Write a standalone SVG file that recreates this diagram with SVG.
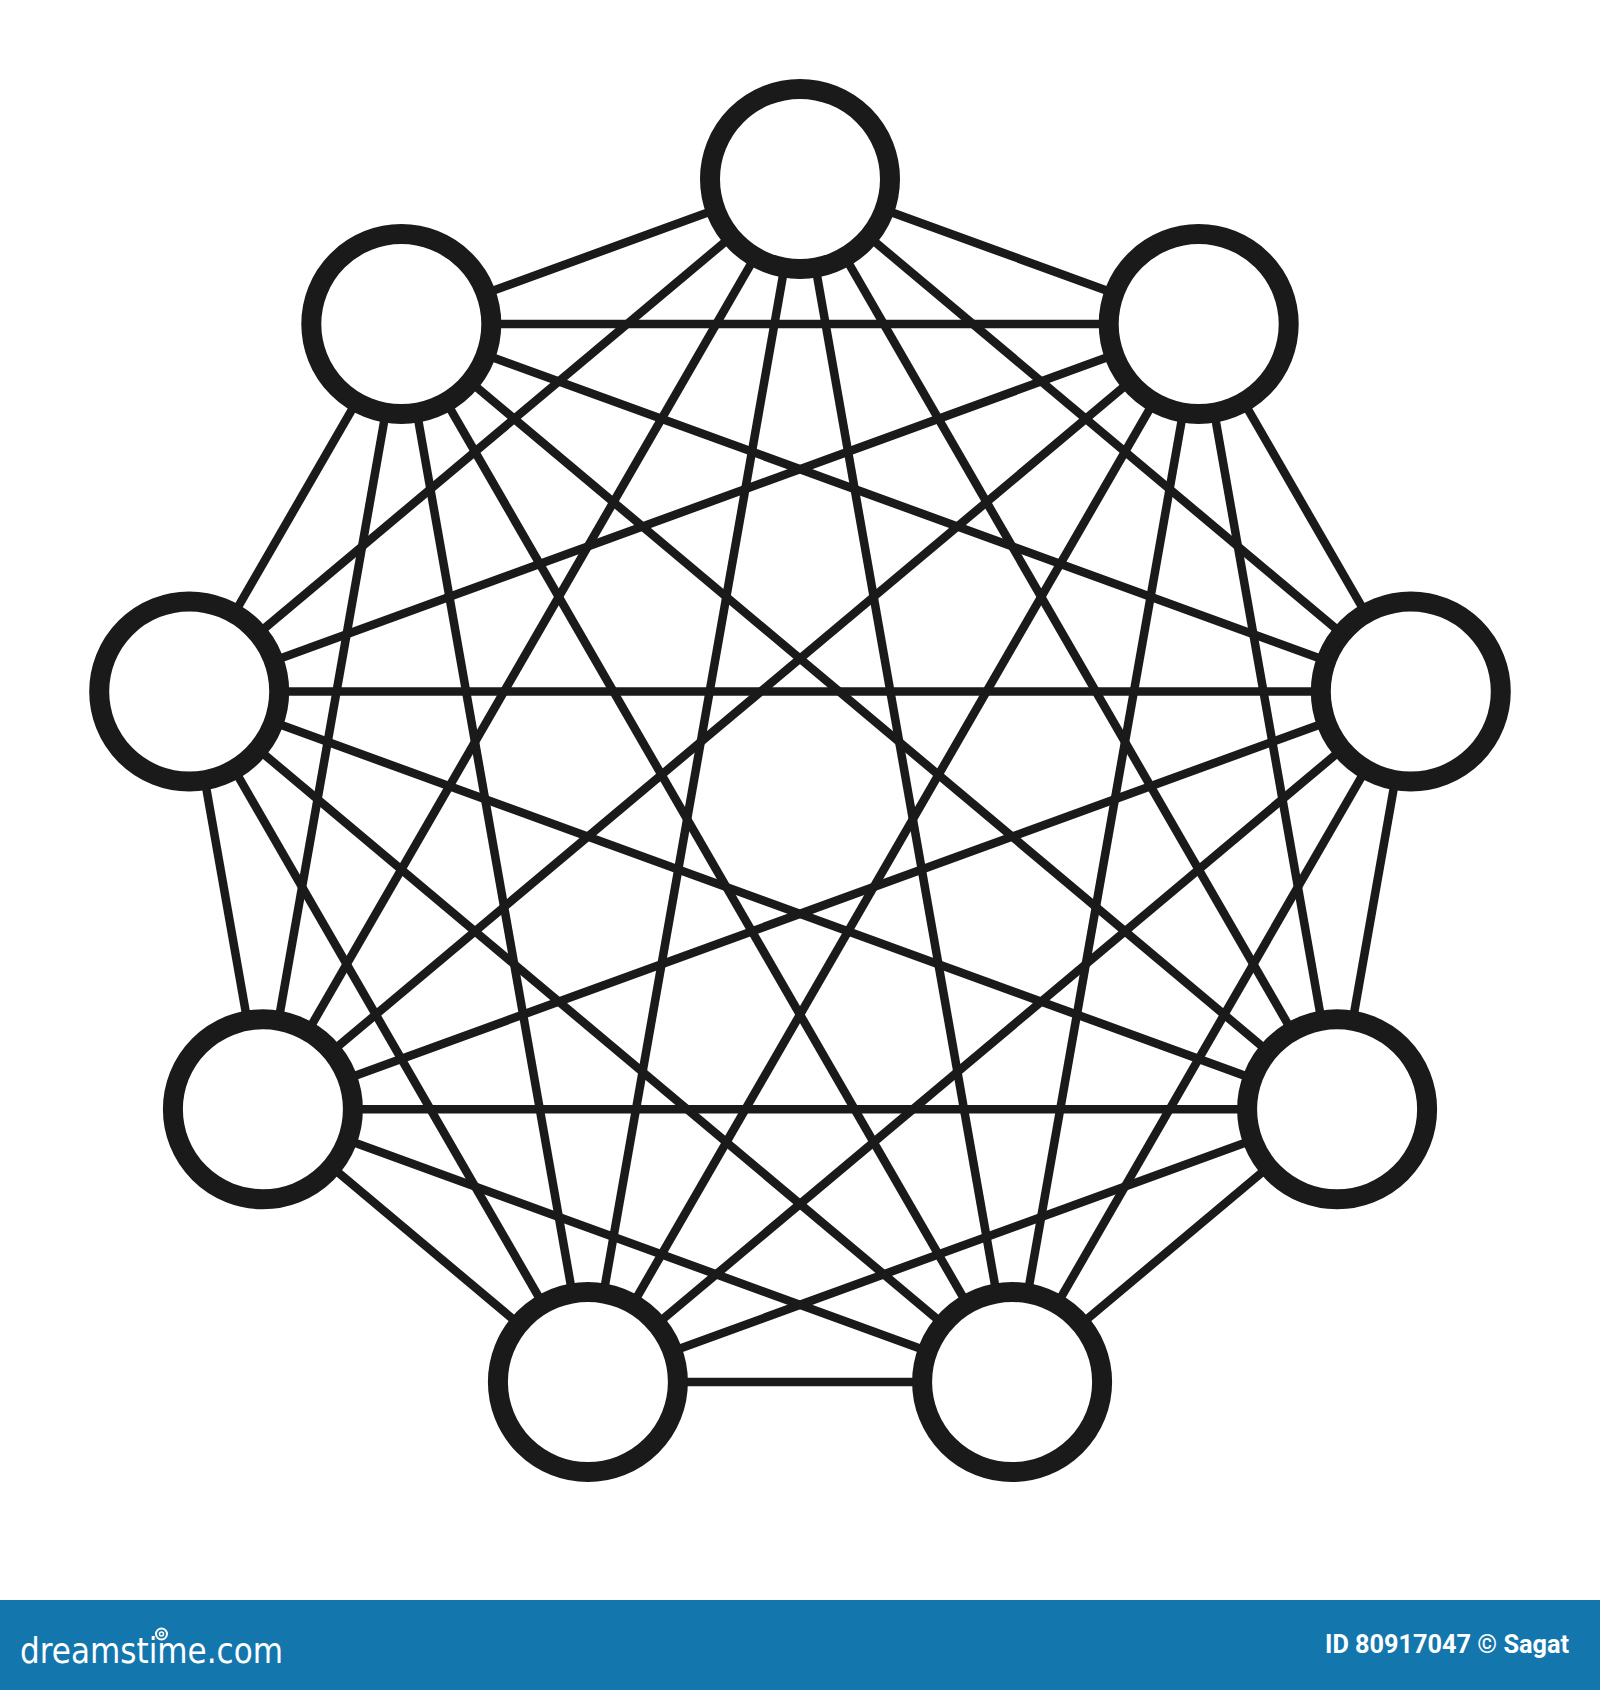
<svg xmlns="http://www.w3.org/2000/svg" width="1600" height="1690" viewBox="0 0 1600 1690">
<style>
.edge{stroke:#1a1a1a;stroke-width:8.5;fill:none}
.node{fill:#fff;stroke:#1a1a1a;stroke-width:20}
.banner{fill:#1377ae}
.wm{fill:#fff}
</style>
<rect width="1600" height="1690" fill="#fff"/>
<g id="connectors">
<line class="edge" x1="800" y1="179" x2="1198.7" y2="324.1"/>
<line class="edge" x1="800" y1="179" x2="1410.8" y2="691.5"/>
<line class="edge" x1="800" y1="179" x2="1337.1" y2="1109.3"/>
<line class="edge" x1="800" y1="179" x2="1012.1" y2="1382"/>
<line class="edge" x1="800" y1="179" x2="587.9" y2="1382"/>
<line class="edge" x1="800" y1="179" x2="262.9" y2="1109.3"/>
<line class="edge" x1="800" y1="179" x2="189.2" y2="691.5"/>
<line class="edge" x1="800" y1="179" x2="401.3" y2="324.1"/>
<line class="edge" x1="1198.7" y1="324.1" x2="1410.8" y2="691.5"/>
<line class="edge" x1="1198.7" y1="324.1" x2="1337.1" y2="1109.3"/>
<line class="edge" x1="1198.7" y1="324.1" x2="1012.1" y2="1382"/>
<line class="edge" x1="1198.7" y1="324.1" x2="587.9" y2="1382"/>
<line class="edge" x1="1198.7" y1="324.1" x2="262.9" y2="1109.3"/>
<line class="edge" x1="1198.7" y1="324.1" x2="189.2" y2="691.5"/>
<line class="edge" x1="1198.7" y1="324.1" x2="401.3" y2="324.1"/>
<line class="edge" x1="1410.8" y1="691.5" x2="1337.1" y2="1109.3"/>
<line class="edge" x1="1410.8" y1="691.5" x2="1012.1" y2="1382"/>
<line class="edge" x1="1410.8" y1="691.5" x2="587.9" y2="1382"/>
<line class="edge" x1="1410.8" y1="691.5" x2="262.9" y2="1109.3"/>
<line class="edge" x1="1410.8" y1="691.5" x2="189.2" y2="691.5"/>
<line class="edge" x1="1410.8" y1="691.5" x2="401.3" y2="324.1"/>
<line class="edge" x1="1337.1" y1="1109.3" x2="1012.1" y2="1382"/>
<line class="edge" x1="1337.1" y1="1109.3" x2="587.9" y2="1382"/>
<line class="edge" x1="1337.1" y1="1109.3" x2="262.9" y2="1109.3"/>
<line class="edge" x1="1337.1" y1="1109.3" x2="189.2" y2="691.5"/>
<line class="edge" x1="1337.1" y1="1109.3" x2="401.3" y2="324.1"/>
<line class="edge" x1="1012.1" y1="1382" x2="587.9" y2="1382"/>
<line class="edge" x1="1012.1" y1="1382" x2="262.9" y2="1109.3"/>
<line class="edge" x1="1012.1" y1="1382" x2="189.2" y2="691.5"/>
<line class="edge" x1="1012.1" y1="1382" x2="401.3" y2="324.1"/>
<line class="edge" x1="587.9" y1="1382" x2="262.9" y2="1109.3"/>
<line class="edge" x1="587.9" y1="1382" x2="189.2" y2="691.5"/>
<line class="edge" x1="587.9" y1="1382" x2="401.3" y2="324.1"/>
<line class="edge" x1="262.9" y1="1109.3" x2="189.2" y2="691.5"/>
<line class="edge" x1="262.9" y1="1109.3" x2="401.3" y2="324.1"/>
<line class="edge" x1="189.2" y1="691.5" x2="401.3" y2="324.1"/>
</g>
<g id="n1"><circle class="node" cx="800" cy="179" r="90"/></g>
<g id="n2"><circle class="node" cx="1198.7" cy="324.1" r="90"/></g>
<g id="n3"><circle class="node" cx="1410.8" cy="691.5" r="90"/></g>
<g id="n4"><circle class="node" cx="1337.1" cy="1109.3" r="90"/></g>
<g id="n5"><circle class="node" cx="1012.1" cy="1382" r="90"/></g>
<g id="n6"><circle class="node" cx="587.9" cy="1382" r="90"/></g>
<g id="n7"><circle class="node" cx="262.9" cy="1109.3" r="90"/></g>
<g id="n8"><circle class="node" cx="189.2" cy="691.5" r="90"/></g>
<g id="n9"><circle class="node" cx="401.3" cy="324.1" r="90"/></g>
<g id="banner">
<rect class="banner" x="0" y="1600" width="1600" height="90"/>
<circle cx="161.5" cy="1634" r="5.5" fill="none" stroke="#fff" stroke-width="2"/>
<circle cx="161.5" cy="1634" r="2" fill="none" stroke="#fff" stroke-width="1.5"/>
<text class="wm" x="20" y="1663" font-family="'DejaVu Sans', sans-serif" font-size="36" textLength="263" lengthAdjust="spacingAndGlyphs">dreamstime.com</text>
<text class="wm" x="1325" y="1653" font-family="Roboto, 'Liberation Sans', sans-serif" font-weight="700" font-size="25" textLength="244" lengthAdjust="spacingAndGlyphs">ID 80917047 © Sagat</text>
</g>
</svg>
